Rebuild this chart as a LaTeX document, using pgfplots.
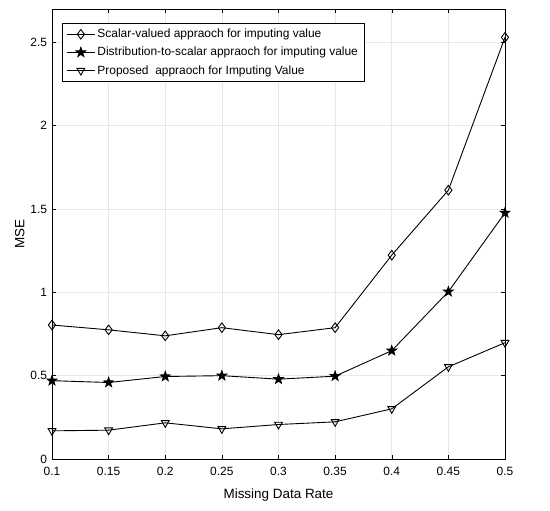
\documentclass[border=0pt]{standalone}
\usepackage{fontspec}
\setmainfont{Liberation Sans}
\usepackage{pgfplots}
\pgfplotsset{compat=1.18}
\usetikzlibrary{plotmarks}

% filled five-pointed star mark
\pgfdeclareplotmark{fstar}{%
  \pgfpathmoveto{\pgfqpointpolar{90}{\pgfplotmarksize}}%
  \pgfpathlineto{\pgfqpointpolar{126}{0.4\pgfplotmarksize}}%
  \pgfpathlineto{\pgfqpointpolar{162}{\pgfplotmarksize}}%
  \pgfpathlineto{\pgfqpointpolar{198}{0.4\pgfplotmarksize}}%
  \pgfpathlineto{\pgfqpointpolar{234}{\pgfplotmarksize}}%
  \pgfpathlineto{\pgfqpointpolar{270}{0.4\pgfplotmarksize}}%
  \pgfpathlineto{\pgfqpointpolar{306}{\pgfplotmarksize}}%
  \pgfpathlineto{\pgfqpointpolar{342}{0.4\pgfplotmarksize}}%
  \pgfpathlineto{\pgfqpointpolar{18}{\pgfplotmarksize}}%
  \pgfpathlineto{\pgfqpointpolar{54}{0.4\pgfplotmarksize}}%
  \pgfpathclose
  \pgfusepathqfillstroke}

\begin{document}
\begin{tikzpicture}
\begin{axis}[
    scale only axis,
    width=453bp,
    height=450bp,
    xmin=0.1, xmax=0.5,
    ymin=0, ymax=2.7,
    xtick={0.1,0.15,0.2,0.25,0.3,0.35,0.4,0.45,0.5},
    xticklabels={0.1,0.15,0.2,0.25,0.3,0.35,0.4,0.45,0.5},
    ytick={0,0.5,1,1.5,2,2.5},
    yticklabels={0,0.5,1,1.5,2,2.5},
    tick align=inside,
    major tick length=4bp,
    tick style={black, line width=0.4pt},
    grid=major,
    grid style={gray!18, line width=0.6pt},
    axis line style={line width=0.5pt},
    ticklabel style={font=\fontsize{12}{14}\selectfont},
    xticklabel style={yshift=-5bp},
    yticklabel style={xshift=-1.5bp},
    xlabel={Missing Data Rate},
    ylabel={MSE},
    label style={font=\fontsize{13.5}{15}\selectfont},
    xlabel style={yshift=-6bp},
    ylabel style={yshift=-1bp},
    legend cell align=left,
    legend style={at={(0.022,0.969)}, anchor=north west,
        font=\fontsize{12}{14}\selectfont, draw=black, line width=0.5pt,
        row sep=4bp, inner xsep=4bp, inner ysep=4bp},
    legend image code/.code={%
        \draw[mark repeat=2, mark phase=2]
            plot coordinates {(0cm,0cm) (0.5cm,0cm) (1cm,0cm)};},
    every axis plot/.append style={line width=0.9pt, black},
]
    \addplot[mark=diamond, mark size=4.8bp, mark options={fill=white}]
        coordinates {(0.1,0.804) (0.15,0.775) (0.2,0.739) (0.25,0.788) (0.3,0.746)
                     (0.35,0.788) (0.4,1.223) (0.45,1.613) (0.5,2.53)};
    \addlegendentry{Scalar-valued appraoch for imputing value}

    \addplot[mark=fstar, mark size=5bp, mark options={fill=black}]
        coordinates {(0.1,0.47) (0.15,0.459) (0.2,0.495) (0.25,0.50) (0.3,0.479)
                     (0.35,0.497) (0.4,0.65) (0.45,1.004) (0.5,1.477)};
    \addlegendentry{Distribution-to-scalar appraoch for imputing value}

    \addplot[mark=triangle, mark size=4.5bp, mark options={rotate=180, fill=white}]
        coordinates {(0.1,0.169) (0.15,0.173) (0.2,0.217) (0.25,0.181) (0.3,0.207)
                     (0.35,0.223) (0.4,0.301) (0.45,0.553) (0.5,0.698)};
    \addlegendentry{Proposed\ \ appraoch for Imputing Value}
\end{axis}
\pgfresetboundingbox
\path[use as bounding box] ([xshift=-52bp,yshift=-51bp]current axis.south west)
    rectangle ([xshift=45bp,yshift=9bp]current axis.north east);
\end{tikzpicture}
\end{document}
